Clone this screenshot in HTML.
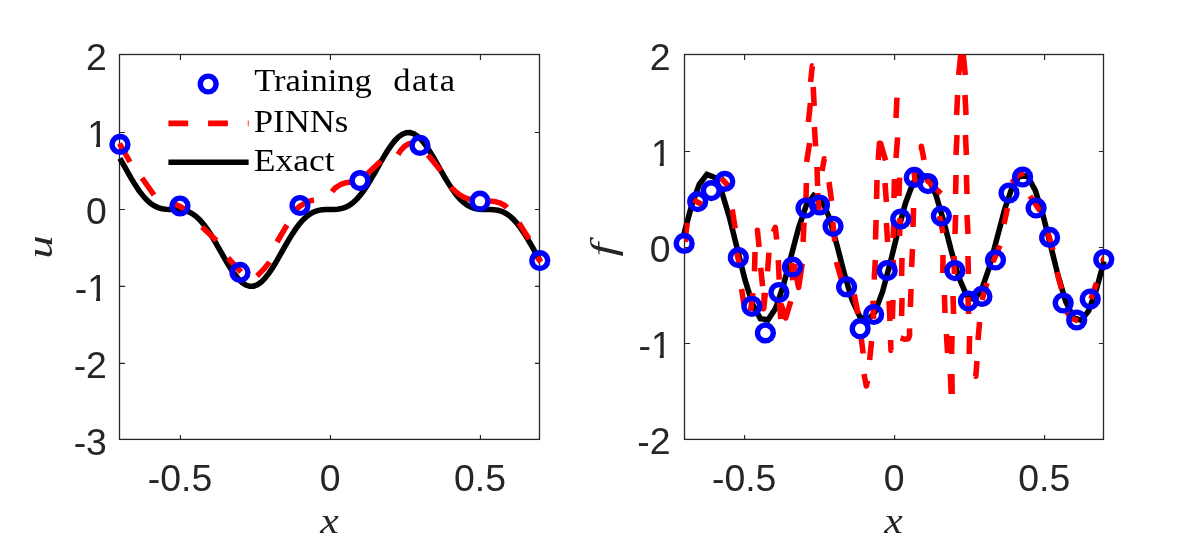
<!DOCTYPE html>
<html><head><meta charset="utf-8"><title>PINNs vs Exact</title>
<style>
html,body{margin:0;padding:0;background:#fff;}
body{width:1200px;height:550px;overflow:hidden;}
svg{display:block;}
.tk{font-family:"Liberation Sans",sans-serif;font-size:37.4px;fill:#262626;}
.lab{font-family:"Liberation Serif",serif;font-style:italic;font-size:36.5px;fill:#262626;}
.lg{font-family:"Liberation Serif",serif;font-size:31px;fill:#000;}
</style></head><body>
<svg width="1200" height="550" viewBox="0 0 1200 550">
<rect width="1200" height="550" fill="#fff"/>
<rect x="119.5" y="54.5" width="420.0" height="384.9" fill="none" stroke="#262626" stroke-width="1.3"/>
<text x="180.05" y="491" text-anchor="middle" class="tk">-0.5</text>
<text x="330.05" y="491" text-anchor="middle" class="tk">0</text>
<text x="480.05" y="491" text-anchor="middle" class="tk">0.5</text>
<text x="106.90" y="70.00" text-anchor="end" class="tk">2</text>
<clipPath id="c1_119_1"><rect x="48.00" y="106.98" width="70" height="36.70"/><rect x="96.10" y="143.18" width="4.00" height="8"/></clipPath>
<text x="108.00" y="146.98" text-anchor="end" class="tk" clip-path="url(#c1_119_1)">1</text>
<text x="106.90" y="223.96" text-anchor="end" class="tk">0</text>
<clipPath id="c1_119_m1"><rect x="48.00" y="260.94" width="70" height="36.70"/><rect x="96.10" y="297.14" width="4.00" height="8"/></clipPath>
<text x="108.00" y="300.94" text-anchor="end" class="tk" clip-path="url(#c1_119_m1)">-1</text>
<text x="106.90" y="377.92" text-anchor="end" class="tk">-2</text>
<text x="106.90" y="454.90" text-anchor="end" class="tk">-3</text>
<path d="M180.45,439.4 v-4.4 M180.45,54.5 v5.6 M330.45,439.4 v-4.4 M330.45,54.5 v5.6 M480.45,439.4 v-4.4 M480.45,54.5 v5.6 M119.5,132.48 h5.5 M539.5,132.48 h-4.6 M119.5,209.46 h5.5 M539.5,209.46 h-4.6 M119.5,286.44 h5.5 M539.5,286.44 h-4.6 M119.5,363.42 h5.5 M539.5,363.42 h-4.6 " stroke="#262626" stroke-width="1.15" fill="none"/>
<text transform="translate(329.4,533.4) scale(1.14,1)" text-anchor="middle" class="lab">x</text>
<text transform="translate(52.1,247.2) rotate(-90) scale(1.28,1)" text-anchor="middle" class="lab">u</text>
<rect x="684.5" y="54.5" width="419.0" height="384.9" fill="none" stroke="#262626" stroke-width="1.3"/>
<text x="744.20" y="491" text-anchor="middle" class="tk">-0.5</text>
<text x="894.20" y="491" text-anchor="middle" class="tk">0</text>
<text x="1044.20" y="491" text-anchor="middle" class="tk">0.5</text>
<text x="670.60" y="69.95" text-anchor="end" class="tk">2</text>
<clipPath id="c1_684_1"><rect x="611.70" y="125.95" width="70" height="36.70"/><rect x="659.80" y="162.15" width="4.00" height="8"/></clipPath>
<text x="671.70" y="165.95" text-anchor="end" class="tk" clip-path="url(#c1_684_1)">1</text>
<text x="670.60" y="261.95" text-anchor="end" class="tk">0</text>
<clipPath id="c1_684_m1"><rect x="611.70" y="317.95" width="70" height="36.70"/><rect x="659.80" y="354.15" width="4.00" height="8"/></clipPath>
<text x="671.70" y="357.95" text-anchor="end" class="tk" clip-path="url(#c1_684_m1)">-1</text>
<text x="670.60" y="453.95" text-anchor="end" class="tk">-2</text>
<path d="M744.60,439.4 v-4.4 M744.60,54.5 v5.6 M894.60,439.4 v-4.4 M894.60,54.5 v5.6 M1044.60,439.4 v-4.4 M1044.60,54.5 v5.6 M684.5,151.45 h5.5 M1103.5,151.45 h-4.6 M684.5,247.45 h5.5 M1103.5,247.45 h-4.6 M684.5,343.45 h5.5 M1103.5,343.45 h-4.6 " stroke="#262626" stroke-width="1.15" fill="none"/>
<text transform="translate(893.6,533.4) scale(1.14,1)" text-anchor="middle" class="lab">x</text>
<text transform="translate(615.1,249.7) rotate(-90) scale(1.36,1)" text-anchor="middle" class="lab">f</text>
<path d="M119.90,158.49 L123.72,165.18 L127.54,171.96 L131.35,178.58 L135.17,184.85 L138.99,190.56 L142.81,195.59 L146.63,199.82 L150.45,203.22 L154.26,205.79 L158.08,207.57 L161.90,208.68 L165.72,209.24 L169.54,209.44 L173.35,209.46 L177.17,209.51 L180.99,209.79 L184.81,210.49 L188.63,211.77 L192.45,213.77 L196.26,216.56 L200.08,220.20 L203.90,224.66 L207.72,229.89 L211.54,235.78 L215.35,242.16 L219.17,248.85 L222.99,255.63 L226.81,262.25 L230.63,268.48 L234.45,274.08 L238.26,278.83 L242.08,282.54 L245.90,285.07 L249.72,286.32 L253.54,286.22 L257.35,284.79 L261.17,282.09 L264.99,278.22 L268.81,273.34 L272.63,267.64 L276.45,261.34 L280.26,254.68 L284.08,247.91 L287.90,241.25 L291.72,234.92 L295.54,229.12 L299.35,223.99 L303.17,219.64 L306.99,216.12 L310.81,213.44 L314.63,211.55 L318.45,210.36 L322.26,209.73 L326.08,209.49 L329.90,209.46 L333.72,209.43 L337.54,209.19 L341.35,208.56 L345.17,207.37 L348.99,205.48 L352.81,202.80 L356.63,199.28 L360.45,194.93 L364.26,189.80 L368.08,184.00 L371.90,177.67 L375.72,171.01 L379.54,164.24 L383.35,157.58 L387.17,151.28 L390.99,145.58 L394.81,140.70 L398.63,136.83 L402.45,134.13 L406.26,132.70 L410.08,132.60 L413.90,133.85 L417.72,136.38 L421.54,140.09 L425.35,144.84 L429.17,150.44 L432.99,156.67 L436.81,163.29 L440.63,170.07 L444.45,176.76 L448.26,183.14 L452.08,189.03 L455.90,194.26 L459.72,198.72 L463.54,202.36 L467.35,205.15 L471.17,207.15 L474.99,208.43 L478.81,209.13 L482.63,209.41 L486.45,209.46 L490.26,209.48 L494.08,209.68 L497.90,210.24 L501.72,211.35 L505.54,213.13 L509.35,215.70 L513.17,219.10 L516.99,223.33 L520.81,228.36 L524.63,234.07 L528.45,240.34 L532.26,246.96 L536.08,253.74 L539.90,260.43" fill="none" stroke="#000" stroke-width="5.56" stroke-linejoin="miter"/>
<path d="M119.50,143.50 L130.00,162.00 M142.00,178.00 L154.00,195.00 M172.00,203.00 Q181.25,206.75 185.50,209.50 M202.00,227.00 L216.50,240.50 M228.00,258.00 L241.00,272.00 M257.00,276.00 Q264.75,269.00 269.50,262.00 M277.00,242.00 L287.00,225.00 M296.00,209.50 Q305.00,201.25 314.00,200.00 M332.00,191.60 Q338.50,182.80 351.00,182.00 M366.00,175.00 L381.00,161.00 M398.00,154.50 Q405.00,143.25 412.00,143.00 M428.00,155.00 L441.00,171.00 M451.00,187.00 Q459.50,196.75 470.00,199.50 M490.00,201.00 Q501.50,201.75 507.00,207.50 M519.00,223.00 L529.00,239.00 M537.00,257.00 L541.00,262.00" fill="none" stroke="#f00" stroke-width="5.56" stroke-linejoin="round"/>
<circle cx="120.00" cy="144.40" r="7.9" fill="none" stroke="#00f" stroke-width="5.4"/>
<circle cx="180.00" cy="206.00" r="7.9" fill="none" stroke="#00f" stroke-width="5.4"/>
<circle cx="240.00" cy="272.40" r="7.9" fill="none" stroke="#00f" stroke-width="5.4"/>
<circle cx="300.00" cy="205.50" r="7.9" fill="none" stroke="#00f" stroke-width="5.4"/>
<circle cx="360.00" cy="180.60" r="7.9" fill="none" stroke="#00f" stroke-width="5.4"/>
<circle cx="420.00" cy="145.40" r="7.9" fill="none" stroke="#00f" stroke-width="5.4"/>
<circle cx="480.00" cy="201.20" r="7.9" fill="none" stroke="#00f" stroke-width="5.4"/>
<circle cx="539.80" cy="260.60" r="7.9" fill="none" stroke="#00f" stroke-width="5.4"/>
<clipPath id="cr"><rect x="684.5" y="54.5" width="419.0" height="384.9"/></clipPath>
<path d="M684.00,233.70 L691.64,205.44 L699.27,184.32 L706.91,174.40 L714.55,177.49 L722.18,193.19 L729.82,218.79 L737.45,249.67 L745.09,280.13 L752.73,304.59 L760.36,318.63 L768.00,319.88 L775.64,308.23 L783.27,285.81 L790.91,257.01 L798.55,228.03 L806.18,205.65 L813.82,195.29 L821.45,199.50 L829.09,217.23 L836.73,244.16 L844.36,273.88 L852.00,299.70 L859.64,316.38 L867.27,320.80 L874.91,312.10 L882.55,291.68 L890.18,263.16 L897.82,231.74 L905.45,203.22 L913.09,182.80 L920.73,174.10 L928.36,178.52 L936.00,195.20 L943.64,221.02 L951.27,250.74 L958.91,277.67 L966.55,295.40 L974.18,299.61 L981.82,289.25 L989.45,266.87 L997.09,237.89 L1004.73,209.09 L1012.36,186.67 L1020.00,175.02 L1027.64,176.27 L1035.27,190.31 L1042.91,214.77 L1050.55,245.23 L1058.18,276.11 L1065.82,301.71 L1073.45,317.41 L1081.09,320.50 L1088.73,310.58 L1096.36,289.46 L1104.00,261.20" fill="none" stroke="#000" stroke-width="5.56" stroke-linejoin="miter"/>
<path clip-path="url(#cr)" d="M685.00,242.00 L687.20,222.80 M693.50,200.00 L702.00,204.50 M721.00,178.00 L728.40,186.00 M732.20,209.50 L735.20,228.50 M736.50,252.00 L740.00,266.00 M741.60,289.00 L744.00,305.00 M750.50,311.00 L753.00,293.00 M754.50,271.40 L755.00,252.00 M757.50,230.80 L757.40,230.30 L759.10,247.00 M760.70,267.70 L762.60,286.20 M764.20,293.00 L763.70,308.80 L765.40,292.80 M767.60,271.40 L768.90,252.60 M773.20,232.00 L775.30,227.40 L776.70,239.50 M778.30,260.20 L779.20,279.60 M779.50,302.60 L780.80,319.00 M781.00,304.00 L785.70,318.00 L790.80,301.30 M791.50,262.70 L792.70,280.20 M794.00,264.00 L798.60,287.50 L802.20,263.50 M803.10,242.00 L804.00,222.50 M806.00,198.00 L806.40,183.00 M806.60,162.00 L809.60,143.00 M808.40,122.00 L810.40,103.00 M810.60,82.00 L812.30,65.90 L812.70,66.20 M813.20,87.00 L814.20,106.00 M814.40,127.00 L815.60,146.40 M817.00,167.00 L817.60,186.00 M817.50,193.00 L819.00,210.00 M822.00,171.00 L824.30,158.80 L824.60,159.30 M829.00,182.00 L831.60,201.00 M832.80,222.00 L834.70,241.30 M836.40,262.00 L841.50,280.00 M854.20,294.40 L858.00,313.90 M861.20,338.00 L863.20,353.50 M864.00,374.00 L866.30,386.00 L867.70,380.50 M869.60,360.00 L871.60,341.00 M873.60,318.90 L873.00,300.70 M874.20,279.60 L875.30,260.00 M875.50,239.50 L876.10,220.00 M876.60,199.00 L877.00,180.00 M878.20,160.00 L879.40,143.40 L880.60,143.40 L885.60,160.50 M885.00,183.00 L886.40,202.00 M886.40,223.00 L887.60,242.00 M889.00,301.00 L890.00,321.00 M890.60,340.00 L891.00,350.30 L891.20,350.00 M892.40,319.00 L893.00,300.00 M893.00,260.00 L894.00,270.00 M893.00,238.00 L894.00,220.00 M894.00,198.00 L894.40,179.00 M896.00,158.00 L897.60,137.40 M896.00,118.00 L897.00,97.60 M899.00,196.00 L899.60,177.60 M899.60,236.00 L900.00,218.00 M901.60,276.00 L902.00,258.00 M901.60,316.00 L902.00,298.00 M900.60,337.80 L905.00,339.30 L908.30,338.80 L909.60,335.50 L909.50,328.40 M910.40,307.00 L911.00,289.00 M911.60,267.00 L912.50,249.00 M913.00,227.00 L913.60,208.00 M914.00,172.00 L916.00,187.00 M921.40,150.00 L921.40,146.40 L924.00,160.00 M926.00,179.50 L933.00,186.00 L941.00,193.50 M939.60,216.00 L943.00,233.00 M943.00,255.00 L942.80,273.00 M944.40,295.00 L945.00,313.00 M946.40,334.00 L947.60,353.00 M950.30,374.00 L951.20,394.00 M952.20,394.00 L951.90,374.00 M951.60,354.00 L952.00,336.00 M953.60,314.00 L953.00,296.00 M954.40,274.00 L954.00,256.00 M955.00,234.00 L955.60,215.00 M955.60,194.00 L956.00,175.00 M956.00,155.00 L957.00,135.00 M956.60,115.00 L957.60,95.00 M958.70,75.00 L961.20,50.00 M962.80,50.00 L965.30,75.00 M965.00,95.00 L966.00,115.00 M965.40,135.00 L966.40,155.00 M966.40,175.00 L967.00,194.00 M967.00,215.00 L968.00,234.00 M968.00,256.00 L968.40,274.00 M968.00,297.00 L968.60,314.00 M969.60,336.00 L969.20,354.00 M977.00,361.00 L975.80,376.30 L975.40,375.80 M978.00,340.00 L979.60,322.00 M982.00,300.00 L987.00,283.00 M993.00,262.00 L1000.00,245.50 M1004.00,224.00 L1007.50,208.00 M1012.00,183.00 L1018.00,175.00 L1024.00,173.00 M1030.00,196.00 L1040.00,211.00 M1048.00,233.00 L1053.00,250.00 M1057.00,272.00 L1061.50,289.00 M1066.00,311.00 L1071.00,318.00 L1078.00,321.00 M1091.00,299.00 L1096.50,283.00 M1102.50,262.00 L1105.00,256.00" fill="none" stroke="#f00" stroke-width="5.56" stroke-linejoin="round"/>
<circle cx="684.20" cy="243.40" r="7.9" fill="none" stroke="#00f" stroke-width="5.4"/>
<circle cx="697.74" cy="201.60" r="7.9" fill="none" stroke="#00f" stroke-width="5.4"/>
<circle cx="711.27" cy="190.60" r="7.9" fill="none" stroke="#00f" stroke-width="5.4"/>
<circle cx="724.81" cy="181.40" r="7.9" fill="none" stroke="#00f" stroke-width="5.4"/>
<circle cx="738.34" cy="257.60" r="7.9" fill="none" stroke="#00f" stroke-width="5.4"/>
<circle cx="751.88" cy="306.30" r="7.9" fill="none" stroke="#00f" stroke-width="5.4"/>
<circle cx="765.41" cy="332.90" r="7.9" fill="none" stroke="#00f" stroke-width="5.4"/>
<circle cx="778.95" cy="292.50" r="7.9" fill="none" stroke="#00f" stroke-width="5.4"/>
<circle cx="792.48" cy="267.00" r="7.9" fill="none" stroke="#00f" stroke-width="5.4"/>
<circle cx="806.02" cy="208.00" r="7.9" fill="none" stroke="#00f" stroke-width="5.4"/>
<circle cx="819.55" cy="205.00" r="7.9" fill="none" stroke="#00f" stroke-width="5.4"/>
<circle cx="833.09" cy="226.30" r="7.9" fill="none" stroke="#00f" stroke-width="5.4"/>
<circle cx="846.62" cy="286.90" r="7.9" fill="none" stroke="#00f" stroke-width="5.4"/>
<circle cx="860.16" cy="328.70" r="7.9" fill="none" stroke="#00f" stroke-width="5.4"/>
<circle cx="873.69" cy="314.50" r="7.9" fill="none" stroke="#00f" stroke-width="5.4"/>
<circle cx="887.23" cy="270.60" r="7.9" fill="none" stroke="#00f" stroke-width="5.4"/>
<circle cx="900.76" cy="219.00" r="7.9" fill="none" stroke="#00f" stroke-width="5.4"/>
<circle cx="914.30" cy="177.40" r="7.9" fill="none" stroke="#00f" stroke-width="5.4"/>
<circle cx="927.83" cy="183.60" r="7.9" fill="none" stroke="#00f" stroke-width="5.4"/>
<circle cx="941.37" cy="216.00" r="7.9" fill="none" stroke="#00f" stroke-width="5.4"/>
<circle cx="954.90" cy="270.60" r="7.9" fill="none" stroke="#00f" stroke-width="5.4"/>
<circle cx="968.44" cy="301.00" r="7.9" fill="none" stroke="#00f" stroke-width="5.4"/>
<circle cx="981.97" cy="296.40" r="7.9" fill="none" stroke="#00f" stroke-width="5.4"/>
<circle cx="995.51" cy="260.00" r="7.9" fill="none" stroke="#00f" stroke-width="5.4"/>
<circle cx="1009.04" cy="193.00" r="7.9" fill="none" stroke="#00f" stroke-width="5.4"/>
<circle cx="1022.58" cy="177.00" r="7.9" fill="none" stroke="#00f" stroke-width="5.4"/>
<circle cx="1036.11" cy="208.00" r="7.9" fill="none" stroke="#00f" stroke-width="5.4"/>
<circle cx="1049.64" cy="237.40" r="7.9" fill="none" stroke="#00f" stroke-width="5.4"/>
<circle cx="1063.18" cy="303.00" r="7.9" fill="none" stroke="#00f" stroke-width="5.4"/>
<circle cx="1076.72" cy="320.00" r="7.9" fill="none" stroke="#00f" stroke-width="5.4"/>
<circle cx="1090.25" cy="299.00" r="7.9" fill="none" stroke="#00f" stroke-width="5.4"/>
<circle cx="1103.79" cy="259.60" r="7.9" fill="none" stroke="#00f" stroke-width="5.4"/>
<circle cx="208.20" cy="84.00" r="7.9" fill="none" stroke="#00f" stroke-width="5.4"/>
<path d="M168.4,123.4 H248.6" stroke="#f00" stroke-width="5.56" stroke-dasharray="19.8 19.9" fill="none"/>
<path d="M168.4,162.3 H248.6" stroke="#000" stroke-width="5.56" fill="none"/>
<text transform="translate(254.14,91.25) scale(1.1139,1)" class="lg">Training <tspan x="124.92" letter-spacing="1.29">data</tspan></text>
<text transform="translate(253.78,132.3) scale(1.1207,1)" class="lg">PINNs</text>
<text transform="translate(253.75,170.9) scale(1.1464,1)" class="lg">Exact</text>
</svg>
</body></html>
